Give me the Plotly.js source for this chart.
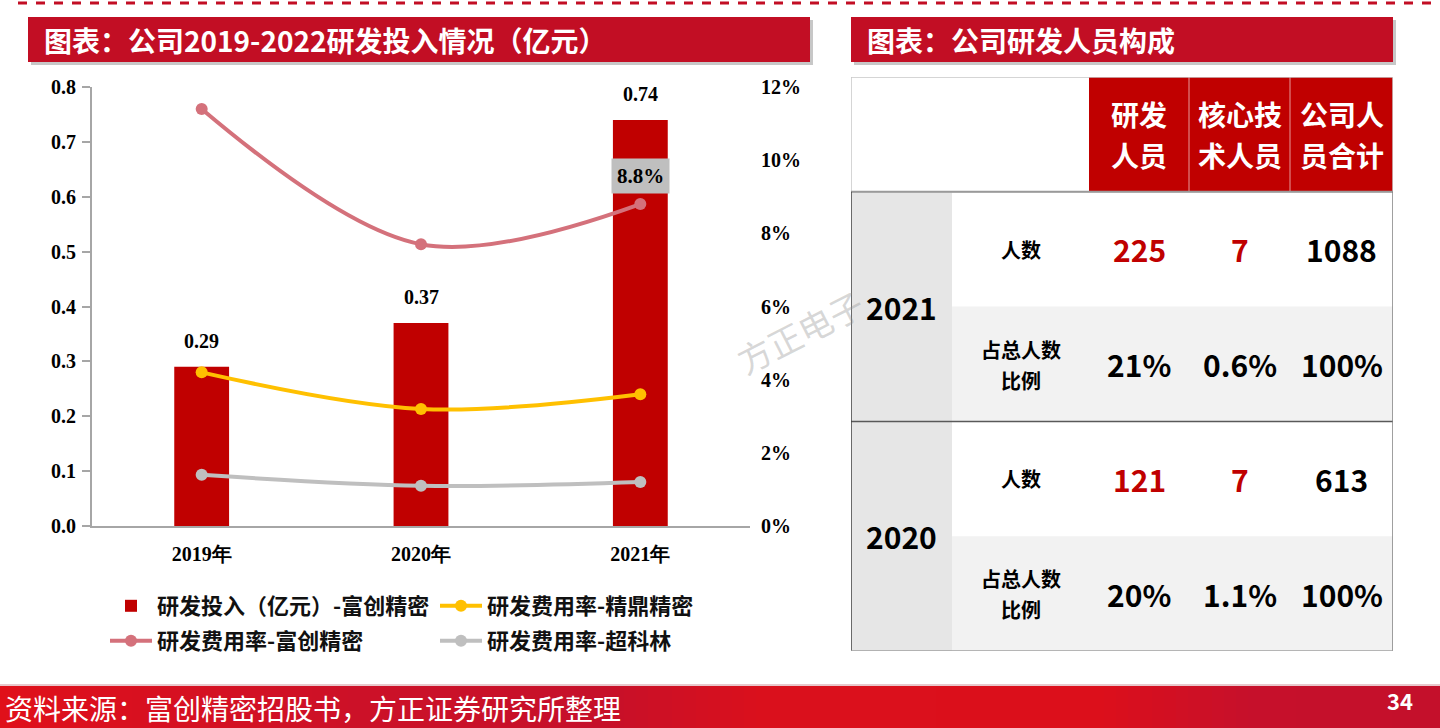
<!DOCTYPE html>
<html>
<head>
<meta charset="utf-8">
<script src="https://cdn.plot.ly/plotly-3.0.1.min.js"></script>
<style>html,body{margin:0;padding:0;background:#fff;overflow:hidden;}#chart{width:1440px;height:728px;}</style>
</head>
<body>
<div id="chart"></div>
<script>
// ---------- chart data ----------
const years = ['2019年', '2020年', '2021年'];
const rdSpend = [0.29, 0.37, 0.74];             // 研发投入（亿元）-富创精密
const rateJingding = [4.2, 3.2, 3.6];           // 研发费用率-精鼎精密 (%)
const rateFuchuang = [11.4, 7.7, 8.8];          // 研发费用率-富创精密 (%)
const rateChaokelin = [1.4, 1.1, 1.2];          // 研发费用率-超科林 (%)
const seriesNames = ['研发投入（亿元）-富创精密', '研发费用率-精鼎精密', '研发费用率-富创精密', '研发费用率-超科林'];

// ---------- table data ----------
const tableHeaders = ['研发<br>人员', '核心技<br>术人员', '公司人<br>员合计'];
const tableYears = ['2021', '2020'];
const rowLabels = ['人数', '占总人数<br>比例'];
const rdStaff = [225, 121];
const coreTechStaff = [7, 7];
const totalStaff = [1088, 613];
const rdShare = ['21%', '20%'];
const coreShare = ['0.6%', '1.1%'];
const totalShare = ['100%', '100%'];

// ---------- page texts ----------
const leftTitle = '图表：公司2019-2022研发投入情况（亿元）';
const rightTitle = '图表：公司研发人员构成';
const sourceText = '资料来源：富创精密招股书，方正证券研究所整理';
const pageNo = '34';
const watermark = '方正电子';

const W = 1440, H = 728;
const px = x => x / W;
const py = y => 1 - y / H;

const RED = '#c00000';
const BANNER = '#c20e24';
const serif = 'Liberation Serif, Times New Roman, serif';
const cjk = 'Noto Sans CJK SC, Noto Sans, sans-serif';

const traces = [
  {type: 'bar', name: seriesNames[0], x: years, y: rdSpend, width: 0.25,
   marker: {color: RED}, xaxis: 'x', yaxis: 'y', legend: 'legend'},
  {type: 'scatter', mode: 'lines+markers', name: seriesNames[1], x: years, y: rateJingding,
   line: {color: '#ffc000', width: 4, shape: 'spline', smoothing: 1}, marker: {size: 12, color: '#ffc000'},
   xaxis: 'x', yaxis: 'y2', cliponaxis: false, legend: 'legend'},
  {type: 'scatter', mode: 'lines+markers', name: seriesNames[2], x: years, y: rateFuchuang,
   line: {color: '#d4717b', width: 4, shape: 'spline', smoothing: 1}, marker: {size: 12, color: '#d4717b'},
   xaxis: 'x', yaxis: 'y2', cliponaxis: false, legend: 'legend2'},
  {type: 'scatter', mode: 'lines+markers', name: seriesNames[3], x: years, y: rateChaokelin,
   line: {color: '#bfbfbf', width: 4, shape: 'spline', smoothing: 1}, marker: {size: 12, color: '#bfbfbf'},
   xaxis: 'x', yaxis: 'y2', cliponaxis: false, legend: 'legend2'}
];

const shapes = [];
const annotations = [];

// top dashed line
shapes.push({type: 'line', xref: 'paper', yref: 'paper', x0: px(18), x1: 1, y0: py(3), y1: py(3),
  line: {color: BANNER, width: 3, dash: 'dash'}});
// banners with shadow
[[28, 810], [851, 1393]].forEach(([a, b]) => {
  shapes.push({type: 'rect', xref: 'paper', yref: 'paper', x0: px(a + 3), x1: px(b + 3), y0: py(65), y1: py(20),
    fillcolor: 'rgba(0,0,0,0.22)', line: {width: 0}, layer: 'below'});
  shapes.push({type: 'rect', xref: 'paper', yref: 'paper', x0: px(a), x1: px(b), y0: py(62), y1: py(17),
    fillcolor: BANNER, line: {width: 0}, layer: 'below'});
});
annotations.push({xref: 'paper', yref: 'paper', x: px(42), y: py(40), xanchor: 'left', yanchor: 'middle',
  text: leftTitle, showarrow: false, font: {family: cjk, size: 28, color: '#fff', weight: 'bold'}});
annotations.push({xref: 'paper', yref: 'paper', x: px(865), y: py(40), xanchor: 'left', yanchor: 'middle',
  text: rightTitle, showarrow: false, font: {family: cjk, size: 28, color: '#fff', weight: 'bold'}});

// footer: smooth red gradient made of thin strips
const gradStops = [[0, [224, 16, 26]], [360, [204, 17, 40]], [600, [198, 16, 42]], [760, [218, 16, 28]],
  [1100, [220, 15, 27]], [1250, [198, 16, 43]], [1440, [196, 16, 43]]];
const colorAt = x => {
  for (let i = 0; i < gradStops.length - 1; i++) {
    const [a, ca] = gradStops[i], [b, cb] = gradStops[i + 1];
    if (x >= a && x <= b) {
      const t = (x - a) / (b - a);
      return 'rgb(' + ca.map((v, j) => Math.round(v + (cb[j] - v) * t)).join(',') + ')';
    }
  }
  return 'rgb(196,16,43)';
};
shapes.push({type: 'rect', xref: 'paper', yref: 'paper', x0: 0, x1: 1, y0: py(687), y1: py(684),
  fillcolor: '#e8c8cc', line: {width: 0}});
for (let x = 0; x < W; x += 12) {
  shapes.push({type: 'rect', xref: 'paper', yref: 'paper', x0: px(x), x1: px(Math.min(W, x + 13)),
    y0: 0, y1: py(686), fillcolor: colorAt(x + 6), line: {width: 0}});
}
annotations.push({xref: 'paper', yref: 'paper', x: px(3), y: py(708), xanchor: 'left', yanchor: 'middle',
  text: sourceText, showarrow: false, font: {family: cjk, size: 28, color: '#fff'}});
annotations.push({xref: 'paper', yref: 'paper', x: px(1400), y: py(700), xanchor: 'center', yanchor: 'middle',
  text: pageNo, showarrow: false, font: {family: cjk, size: 22, color: '#fff', weight: 'bold'}});

// bar value labels
years.forEach((yr, i) => annotations.push({xref: 'x', yref: 'y', x: yr, y: rdSpend[i], yanchor: 'bottom', yshift: 13,
  text: rdSpend[i].toFixed(2), showarrow: false, font: {family: serif, size: 20, color: '#000', weight: 'bold'}}));
// highlighted rate label (last point of 富创精密)
annotations.push({xref: 'x', yref: 'y2', x: years[2], y: rateFuchuang[2], yanchor: 'middle', yshift: 28,
  text: rateFuchuang[2].toFixed(1) + '%', showarrow: false, bgcolor: '#bfbfbf', borderpad: 5,
  font: {family: serif, size: 21, color: '#000', weight: 'bold'}});

// ---------- table (axis x3/y3; x in px units inside table, y in row units) ----------
const colEdges = [0, 101, 238, 338, 439, 542];
const colMid = i => (colEdges[i] + colEdges[i + 1]) / 2;
const tshape = (o) => Object.assign({xref: 'x3', yref: 'y3', layer: 'below'}, o);
// header red cells
for (let c = 2; c < 5; c++) shapes.push(tshape({type: 'rect', x0: colEdges[c], x1: colEdges[c + 1], y0: 0, y1: 1,
  fillcolor: RED, line: {width: 0}}));
// year column
shapes.push(tshape({type: 'rect', x0: 0, x1: colEdges[1], y0: 1, y1: 5, fillcolor: '#e6e6e6', line: {width: 0}}));
// shaded ratio rows (row 2: y 2..3, row 4: y 4..5)
[2, 4].forEach(r => shapes.push(tshape({type: 'rect', x0: colEdges[1], x1: colEdges[5], y0: r, y1: r + 1,
  fillcolor: '#f2f2f2', line: {width: 0}})));
// header separators
[3, 4].forEach(c => shapes.push(tshape({type: 'line', x0: colEdges[c], x1: colEdges[c], y0: 0, y1: 1,
  line: {color: 'rgba(255,255,255,0.6)', width: 1}, layer: 'above'})));
// borders
shapes.push(tshape({type: 'rect', x0: 0, x1: 542, y0: 0, y1: 1, line: {color: '#c8c8c8', width: 1.5}, layer: 'above'}));
shapes.push(tshape({type: 'line', x0: 0, x1: 542, y0: 1, y1: 1, line: {color: '#9a9a9a', width: 2}, layer: 'above'}));
shapes.push(tshape({type: 'line', x0: 0, x1: 542, y0: 3, y1: 3, line: {color: '#595959', width: 1.5}, layer: 'above'}));
shapes.push(tshape({type: 'line', x0: 0, x1: 0, y0: 1, y1: 5, line: {color: '#404040', width: 1.5}, layer: 'above'}));
shapes.push(tshape({type: 'line', x0: 542, x1: 542, y0: 1, y1: 5, line: {color: '#808080', width: 1.5}, layer: 'above'}));
shapes.push(tshape({type: 'line', x0: 0, x1: 542, y0: 5, y1: 5, line: {color: '#a0a0a0', width: 1.5}, layer: 'above'}));

const tAnn = (x, y, text, size, color, yshift) => annotations.push({xref: 'x3', yref: 'y3', x: x, y: y,
  xanchor: 'center', yanchor: 'middle', yshift: yshift || 0, text: text, showarrow: false,
  font: {family: cjk, size: size, color: color, weight: 'bold'}});
// header text (two lines each)
tableHeaders.forEach((h, i) => {
  const parts = h.split('<br>');
  tAnn(colMid(i + 2), 0.5, parts[0], 28, '#fff', 20);
  tAnn(colMid(i + 2), 0.5, parts[1], 28, '#fff', -21);
});
tableYears.forEach((yr, k) => {
  const r = 1 + k * 2; // first row index of block
  tAnn(colMid(0), r + 1, yr, 30, '#000');
  tAnn(colMid(1), r + 0.5, rowLabels[0], 20, '#000');
  const lp = rowLabels[1].split('<br>');
  tAnn(colMid(1), r + 1.5, lp[0], 20, '#000', 15);
  tAnn(colMid(1), r + 1.5, lp[1], 20, '#000', -16);
  tAnn(colMid(2), r + 0.5, String(rdStaff[k]), 30, RED);
  tAnn(colMid(3), r + 0.5, String(coreTechStaff[k]), 30, RED);
  tAnn(colMid(4), r + 0.5, String(totalStaff[k]), 30, '#000');
  tAnn(colMid(2), r + 1.5, rdShare[k], 30, '#000');
  tAnn(colMid(3), r + 1.5, coreShare[k], 30, '#000');
  tAnn(colMid(4), r + 1.5, totalShare[k], 30, '#000');
});

// watermark
annotations.push({xref: 'paper', yref: 'paper', x: px(800), y: py(332), xanchor: 'center', yanchor: 'middle',
  text: watermark, textangle: -27, showarrow: false, font: {family: cjk, size: 34, color: 'rgba(140,140,140,0.35)'}});

const axisFont = {family: serif, size: 20, color: '#000', weight: 'bold'};
const legendFont = {family: cjk, size: 22, color: '#111', weight: 'bold'};
const legendBase = {orientation: 'h', xanchor: 'left', yanchor: 'middle', itemwidth: 42,
  entrywidth: 273, entrywidthmode: 'pixels', traceorder: 'normal', font: legendFont, bgcolor: 'rgba(0,0,0,0)'};

const layout = {
  width: W, height: H, autosize: false,
  margin: {l: 0, r: 0, t: 0, b: 0, autoexpand: false},
  paper_bgcolor: '#fff', plot_bgcolor: 'rgba(0,0,0,0)',
  showlegend: true,
  legend: Object.assign({x: px(105), y: py(606)}, legendBase),
  legend2: Object.assign({x: px(105), y: py(641)}, legendBase),
  xaxis: {domain: [px(92), px(750)], type: 'category', range: [-0.5, 2.5], anchor: 'y',
    showline: true, linecolor: '#a6a6a6', linewidth: 2, ticks: '', showgrid: false, zeroline: false,
    tickfont: axisFont, ticklabelstandoff: 9, fixedrange: true},
  yaxis: {domain: [py(526), py(87)], range: [0, 0.8], dtick: 0.1, tickformat: '.1f', anchor: 'x',
    showline: true, linecolor: '#a6a6a6', linewidth: 2, ticks: 'outside', ticklen: 8, tickcolor: '#a6a6a6', tickwidth: 2,
    showgrid: false, zeroline: false, tickfont: axisFont, ticklabelstandoff: 2},
  yaxis2: {overlaying: 'y', side: 'right', anchor: 'x', range: [0, 12], dtick: 2, ticksuffix: '%', tickformat: '.0f',
    showline: false, showgrid: false, zeroline: false, ticks: '', tickfont: axisFont, ticklabelstandoff: 10},
  xaxis3: {domain: [px(851), px(1393)], range: [0, 542], anchor: 'y3', visible: false, fixedrange: true},
  yaxis3: {domain: [py(651), py(77)], range: [5, 0], anchor: 'x3', visible: false, fixedrange: true},
  shapes: shapes,
  annotations: annotations
};

Plotly.newPlot('chart', traces, layout, {displayModeBar: false, staticPlot: true});
</script>
</body>
</html>
